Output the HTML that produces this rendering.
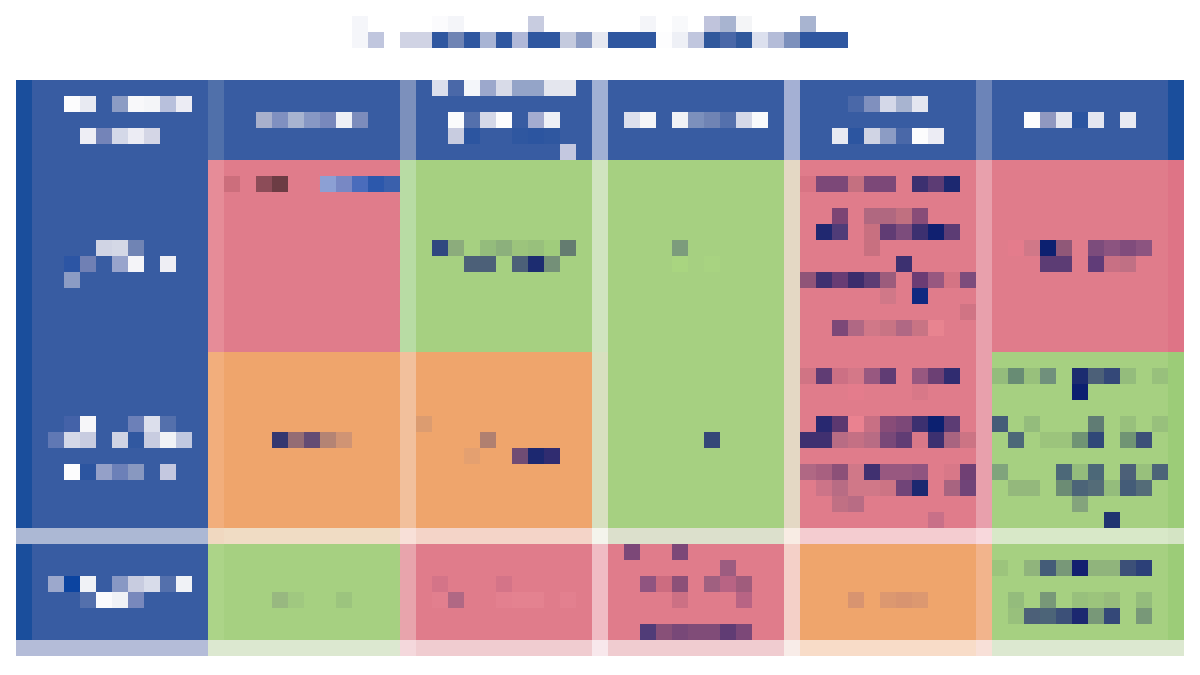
<!DOCTYPE html>
<html><head><meta charset="utf-8"><title>Comparison table</title>
<style>html,body{margin:0;padding:0;background:#fff;width:1200px;height:675px;overflow:hidden;font-family:"Liberation Sans",sans-serif}svg{display:block}</style>
</head><body>
<svg width="1200" height="675" viewBox="0 0 1200 675" shape-rendering="crispEdges">
<rect x="352" y="16" width="16" height="16" fill="#f5f6fa"/>
<rect x="432" y="16" width="16" height="16" fill="#fbfbfd"/>
<rect x="448" y="16" width="16" height="16" fill="#f4f5f9"/>
<rect x="528" y="16" width="16" height="16" fill="#c8cce0"/>
<rect x="640" y="16" width="16" height="16" fill="#f4f5f9"/>
<rect x="672" y="16" width="16" height="16" fill="#f8f9fb"/>
<rect x="704" y="16" width="16" height="16" fill="#c0c4dc"/>
<rect x="720" y="16" width="16" height="16" fill="#a8b4d0"/>
<rect x="736" y="16" width="16" height="16" fill="#f4f5f7"/>
<rect x="800" y="16" width="16" height="16" fill="#a8b4d0"/>
<rect x="352" y="32" width="16" height="16" fill="#f5f6fa"/>
<rect x="368" y="32" width="16" height="16" fill="#c0c6de"/>
<rect x="400" y="32" width="32" height="16" fill="#d0d3e4"/>
<rect x="432" y="32" width="16" height="16" fill="#2f57a0"/>
<rect x="448" y="32" width="16" height="16" fill="#6f84b4"/>
<rect x="464" y="32" width="16" height="16" fill="#2f57a0"/>
<rect x="480" y="32" width="16" height="16" fill="#a8b4d4"/>
<rect x="496" y="32" width="16" height="16" fill="#2f57a0"/>
<rect x="512" y="32" width="16" height="16" fill="#b0b8d8"/>
<rect x="528" y="32" width="32" height="16" fill="#2f57a0"/>
<rect x="560" y="32" width="16" height="16" fill="#c4cade"/>
<rect x="576" y="32" width="16" height="16" fill="#8c9cc4"/>
<rect x="592" y="32" width="16" height="16" fill="#e6e8f0"/>
<rect x="608" y="32" width="48" height="16" fill="#2f57a0"/>
<rect x="656" y="32" width="16" height="16" fill="#fdfdfe"/>
<rect x="672" y="32" width="16" height="16" fill="#eef0f6"/>
<rect x="688" y="32" width="16" height="16" fill="#c0c6de"/>
<rect x="704" y="32" width="16" height="16" fill="#30589c"/>
<rect x="720" y="32" width="16" height="16" fill="#4a68a8"/>
<rect x="736" y="32" width="16" height="16" fill="#30589c"/>
<rect x="752" y="32" width="16" height="16" fill="#dce0ee"/>
<rect x="768" y="32" width="16" height="16" fill="#b4bcd8"/>
<rect x="784" y="32" width="16" height="16" fill="#7c90bc"/>
<rect x="800" y="32" width="48" height="16" fill="#2f57a0"/>
<rect x="16" y="80" width="16" height="16" fill="#1a4e9c"/>
<rect x="32" y="80" width="176" height="16" fill="#385ca2"/>
<rect x="208" y="80" width="16" height="16" fill="#5070aa"/>
<rect x="224" y="80" width="176" height="16" fill="#385ca2"/>
<rect x="400" y="80" width="16" height="16" fill="#7c90bc"/>
<rect x="416" y="80" width="16" height="16" fill="#385ca2"/>
<rect x="432" y="80" width="16" height="16" fill="#dcdfec"/>
<rect x="448" y="80" width="16" height="16" fill="#4a68a8"/>
<rect x="464" y="80" width="16" height="16" fill="#f4f6fa"/>
<rect x="480" y="80" width="16" height="16" fill="#9ca8cc"/>
<rect x="496" y="80" width="16" height="16" fill="#d8dbe8"/>
<rect x="512" y="80" width="32" height="16" fill="#94a4c8"/>
<rect x="544" y="80" width="32" height="16" fill="#e4e6ee"/>
<rect x="576" y="80" width="16" height="16" fill="#385ca2"/>
<rect x="592" y="80" width="16" height="16" fill="#a0b0d4"/>
<rect x="608" y="80" width="176" height="16" fill="#385ca2"/>
<rect x="784" y="80" width="16" height="16" fill="#a4b0d4"/>
<rect x="800" y="80" width="176" height="16" fill="#385ca2"/>
<rect x="976" y="80" width="16" height="16" fill="#6c84b8"/>
<rect x="992" y="80" width="176" height="16" fill="#385ca2"/>
<rect x="1168" y="80" width="16" height="16" fill="#1a4e9c"/>
<rect x="16" y="96" width="16" height="16" fill="#1a4e9c"/>
<rect x="32" y="96" width="32" height="16" fill="#385ca2"/>
<rect x="64" y="96" width="16" height="16" fill="#fcfcfd"/>
<rect x="80" y="96" width="16" height="16" fill="#e8eaf2"/>
<rect x="96" y="96" width="16" height="16" fill="#385ca2"/>
<rect x="112" y="96" width="16" height="16" fill="#8c9cc4"/>
<rect x="128" y="96" width="16" height="16" fill="#f8f8fa"/>
<rect x="144" y="96" width="16" height="16" fill="#f4f5f8"/>
<rect x="160" y="96" width="16" height="16" fill="#b8c0dc"/>
<rect x="176" y="96" width="16" height="16" fill="#ececf4"/>
<rect x="192" y="96" width="16" height="16" fill="#385ca2"/>
<rect x="208" y="96" width="16" height="16" fill="#5070aa"/>
<rect x="224" y="96" width="176" height="16" fill="#385ca2"/>
<rect x="400" y="96" width="16" height="16" fill="#7c90bc"/>
<rect x="416" y="96" width="176" height="16" fill="#385ca2"/>
<rect x="592" y="96" width="16" height="16" fill="#a0b0d4"/>
<rect x="608" y="96" width="176" height="16" fill="#385ca2"/>
<rect x="784" y="96" width="16" height="16" fill="#a4b0d4"/>
<rect x="800" y="96" width="48" height="16" fill="#385ca2"/>
<rect x="848" y="96" width="16" height="16" fill="#4a68a8"/>
<rect x="864" y="96" width="16" height="16" fill="#8090be"/>
<rect x="880" y="96" width="16" height="16" fill="#d4d8e8"/>
<rect x="896" y="96" width="16" height="16" fill="#a8b4d0"/>
<rect x="912" y="96" width="16" height="16" fill="#e4e6f0"/>
<rect x="928" y="96" width="48" height="16" fill="#385ca2"/>
<rect x="976" y="96" width="16" height="16" fill="#6c84b8"/>
<rect x="992" y="96" width="176" height="16" fill="#385ca2"/>
<rect x="1168" y="96" width="16" height="16" fill="#1a4e9c"/>
<rect x="16" y="112" width="16" height="16" fill="#1a4e9c"/>
<rect x="32" y="112" width="176" height="16" fill="#385ca2"/>
<rect x="208" y="112" width="16" height="16" fill="#5070aa"/>
<rect x="224" y="112" width="32" height="16" fill="#385ca2"/>
<rect x="256" y="112" width="16" height="16" fill="#a8b0cc"/>
<rect x="272" y="112" width="16" height="16" fill="#8090c0"/>
<rect x="288" y="112" width="16" height="16" fill="#a8b4d0"/>
<rect x="304" y="112" width="16" height="16" fill="#8898c4"/>
<rect x="320" y="112" width="16" height="16" fill="#7888bc"/>
<rect x="336" y="112" width="16" height="16" fill="#eef0f6"/>
<rect x="352" y="112" width="16" height="16" fill="#7c8cbc"/>
<rect x="368" y="112" width="32" height="16" fill="#385ca2"/>
<rect x="400" y="112" width="16" height="16" fill="#7c90bc"/>
<rect x="416" y="112" width="32" height="16" fill="#385ca2"/>
<rect x="448" y="112" width="16" height="16" fill="#fafbfc"/>
<rect x="464" y="112" width="16" height="16" fill="#5470ac"/>
<rect x="480" y="112" width="16" height="16" fill="#d4d8e8"/>
<rect x="496" y="112" width="16" height="16" fill="#fcfcfd"/>
<rect x="512" y="112" width="16" height="16" fill="#385ca2"/>
<rect x="528" y="112" width="16" height="16" fill="#a4acd0"/>
<rect x="544" y="112" width="16" height="16" fill="#eef0f6"/>
<rect x="560" y="112" width="32" height="16" fill="#385ca2"/>
<rect x="592" y="112" width="16" height="16" fill="#a0b0d4"/>
<rect x="608" y="112" width="16" height="16" fill="#385ca2"/>
<rect x="624" y="112" width="16" height="16" fill="#dcdfec"/>
<rect x="640" y="112" width="16" height="16" fill="#f4f5f8"/>
<rect x="656" y="112" width="16" height="16" fill="#385ca2"/>
<rect x="672" y="112" width="16" height="16" fill="#f0f2f6"/>
<rect x="688" y="112" width="16" height="16" fill="#7c90bc"/>
<rect x="704" y="112" width="16" height="16" fill="#7084b4"/>
<rect x="720" y="112" width="16" height="16" fill="#5470ac"/>
<rect x="736" y="112" width="16" height="16" fill="#d4d8e8"/>
<rect x="752" y="112" width="16" height="16" fill="#f8f9fb"/>
<rect x="768" y="112" width="16" height="16" fill="#385ca2"/>
<rect x="784" y="112" width="16" height="16" fill="#a4b0d4"/>
<rect x="800" y="112" width="176" height="16" fill="#385ca2"/>
<rect x="976" y="112" width="16" height="16" fill="#6c84b8"/>
<rect x="992" y="112" width="32" height="16" fill="#385ca2"/>
<rect x="1024" y="112" width="16" height="16" fill="#fcfcfd"/>
<rect x="1040" y="112" width="16" height="16" fill="#9098c0"/>
<rect x="1056" y="112" width="16" height="16" fill="#e4e6f0"/>
<rect x="1072" y="112" width="16" height="16" fill="#2c55a0"/>
<rect x="1088" y="112" width="16" height="16" fill="#e4e6f0"/>
<rect x="1104" y="112" width="16" height="16" fill="#385ca2"/>
<rect x="1120" y="112" width="16" height="16" fill="#e8eaf2"/>
<rect x="1136" y="112" width="32" height="16" fill="#385ca2"/>
<rect x="1168" y="112" width="16" height="16" fill="#1a4e9c"/>
<rect x="16" y="128" width="16" height="16" fill="#1a4e9c"/>
<rect x="32" y="128" width="48" height="16" fill="#385ca2"/>
<rect x="80" y="128" width="16" height="16" fill="#eeeef5"/>
<rect x="96" y="128" width="16" height="16" fill="#7484b8"/>
<rect x="112" y="128" width="16" height="16" fill="#d4d8e8"/>
<rect x="128" y="128" width="16" height="16" fill="#ececf4"/>
<rect x="144" y="128" width="16" height="16" fill="#d4d6e6"/>
<rect x="160" y="128" width="48" height="16" fill="#385ca2"/>
<rect x="208" y="128" width="16" height="16" fill="#5070aa"/>
<rect x="224" y="128" width="176" height="16" fill="#385ca2"/>
<rect x="400" y="128" width="16" height="16" fill="#7c90bc"/>
<rect x="416" y="128" width="32" height="16" fill="#385ca2"/>
<rect x="448" y="128" width="16" height="16" fill="#c8cce0"/>
<rect x="464" y="128" width="16" height="16" fill="#2c55a0"/>
<rect x="480" y="128" width="32" height="16" fill="#385ca2"/>
<rect x="512" y="128" width="16" height="16" fill="#2f57a0"/>
<rect x="528" y="128" width="16" height="16" fill="#2c55a0"/>
<rect x="544" y="128" width="16" height="16" fill="#2f57a0"/>
<rect x="560" y="128" width="32" height="16" fill="#385ca2"/>
<rect x="592" y="128" width="16" height="16" fill="#a0b0d4"/>
<rect x="608" y="128" width="176" height="16" fill="#385ca2"/>
<rect x="784" y="128" width="16" height="16" fill="#a4b0d4"/>
<rect x="800" y="128" width="32" height="16" fill="#385ca2"/>
<rect x="832" y="128" width="16" height="16" fill="#e8eaf2"/>
<rect x="848" y="128" width="16" height="16" fill="#2c55a0"/>
<rect x="864" y="128" width="16" height="16" fill="#d0d4e4"/>
<rect x="880" y="128" width="16" height="16" fill="#8c9cc4"/>
<rect x="896" y="128" width="16" height="16" fill="#4a68a8"/>
<rect x="912" y="128" width="16" height="16" fill="#fcfcfd"/>
<rect x="928" y="128" width="16" height="16" fill="#ececf4"/>
<rect x="944" y="128" width="32" height="16" fill="#385ca2"/>
<rect x="976" y="128" width="16" height="16" fill="#6c84b8"/>
<rect x="992" y="128" width="176" height="16" fill="#385ca2"/>
<rect x="1168" y="128" width="16" height="16" fill="#1a4e9c"/>
<rect x="16" y="144" width="16" height="16" fill="#1a4e9c"/>
<rect x="32" y="144" width="176" height="16" fill="#385ca2"/>
<rect x="208" y="144" width="16" height="16" fill="#5070aa"/>
<rect x="224" y="144" width="176" height="16" fill="#385ca2"/>
<rect x="400" y="144" width="16" height="16" fill="#7c90bc"/>
<rect x="416" y="144" width="144" height="16" fill="#385ca2"/>
<rect x="560" y="144" width="16" height="16" fill="#c4c8e0"/>
<rect x="576" y="144" width="16" height="16" fill="#385ca2"/>
<rect x="592" y="144" width="16" height="16" fill="#a0b0d4"/>
<rect x="608" y="144" width="176" height="16" fill="#385ca2"/>
<rect x="784" y="144" width="16" height="16" fill="#a4b0d4"/>
<rect x="800" y="144" width="176" height="16" fill="#385ca2"/>
<rect x="976" y="144" width="16" height="16" fill="#6c84b8"/>
<rect x="992" y="144" width="176" height="16" fill="#385ca2"/>
<rect x="1168" y="144" width="16" height="16" fill="#1a4e9c"/>
<rect x="16" y="160" width="16" height="16" fill="#1a4e9c"/>
<rect x="32" y="160" width="176" height="16" fill="#385ca2"/>
<rect x="208" y="160" width="16" height="16" fill="#e68c98"/>
<rect x="224" y="160" width="176" height="16" fill="#e07c8b"/>
<rect x="400" y="160" width="16" height="16" fill="#b8dca4"/>
<rect x="416" y="160" width="176" height="16" fill="#a6d081"/>
<rect x="592" y="160" width="16" height="16" fill="#d0e4c0"/>
<rect x="608" y="160" width="176" height="16" fill="#a6d081"/>
<rect x="784" y="160" width="16" height="16" fill="#e4d8c4"/>
<rect x="800" y="160" width="176" height="16" fill="#e07c8b"/>
<rect x="976" y="160" width="16" height="16" fill="#e8a0ac"/>
<rect x="992" y="160" width="176" height="16" fill="#e07c8b"/>
<rect x="1168" y="160" width="16" height="16" fill="#de7486"/>
<rect x="16" y="176" width="16" height="16" fill="#1a4e9c"/>
<rect x="32" y="176" width="176" height="16" fill="#385ca2"/>
<rect x="208" y="176" width="16" height="16" fill="#e68c98"/>
<rect x="224" y="176" width="16" height="16" fill="#cc6e7c"/>
<rect x="240" y="176" width="16" height="16" fill="#e07c8b"/>
<rect x="256" y="176" width="16" height="16" fill="#8c4c58"/>
<rect x="272" y="176" width="16" height="16" fill="#6c3c44"/>
<rect x="288" y="176" width="32" height="16" fill="#e07c8b"/>
<rect x="320" y="176" width="16" height="16" fill="#8ca0d4"/>
<rect x="336" y="176" width="16" height="16" fill="#7888c4"/>
<rect x="352" y="176" width="16" height="16" fill="#4a6cbc"/>
<rect x="368" y="176" width="16" height="16" fill="#2c58ac"/>
<rect x="384" y="176" width="16" height="16" fill="#3a60ac"/>
<rect x="400" y="176" width="16" height="16" fill="#b8dca4"/>
<rect x="416" y="176" width="176" height="16" fill="#a6d081"/>
<rect x="592" y="176" width="16" height="16" fill="#d0e4c0"/>
<rect x="608" y="176" width="176" height="16" fill="#a6d081"/>
<rect x="784" y="176" width="16" height="16" fill="#e4d8c4"/>
<rect x="800" y="176" width="16" height="16" fill="#d87484"/>
<rect x="816" y="176" width="32" height="16" fill="#7c4878"/>
<rect x="848" y="176" width="16" height="16" fill="#c47080"/>
<rect x="864" y="176" width="32" height="16" fill="#7c4878"/>
<rect x="896" y="176" width="16" height="16" fill="#e07c8b"/>
<rect x="912" y="176" width="16" height="16" fill="#3c3070"/>
<rect x="928" y="176" width="16" height="16" fill="#5c3c74"/>
<rect x="944" y="176" width="16" height="16" fill="#1c2870"/>
<rect x="960" y="176" width="16" height="16" fill="#e07c8b"/>
<rect x="976" y="176" width="16" height="16" fill="#e8a0ac"/>
<rect x="992" y="176" width="176" height="16" fill="#e07c8b"/>
<rect x="1168" y="176" width="16" height="16" fill="#de7486"/>
<rect x="16" y="192" width="16" height="16" fill="#1a4e9c"/>
<rect x="32" y="192" width="176" height="16" fill="#385ca2"/>
<rect x="208" y="192" width="16" height="16" fill="#e68c98"/>
<rect x="224" y="192" width="176" height="16" fill="#e07c8b"/>
<rect x="400" y="192" width="16" height="16" fill="#b8dca4"/>
<rect x="416" y="192" width="176" height="16" fill="#a6d081"/>
<rect x="592" y="192" width="16" height="16" fill="#d0e4c0"/>
<rect x="608" y="192" width="176" height="16" fill="#a6d081"/>
<rect x="784" y="192" width="16" height="16" fill="#e4d8c4"/>
<rect x="800" y="192" width="176" height="16" fill="#e07c8b"/>
<rect x="976" y="192" width="16" height="16" fill="#e8a0ac"/>
<rect x="992" y="192" width="176" height="16" fill="#e07c8b"/>
<rect x="1168" y="192" width="16" height="16" fill="#de7486"/>
<rect x="16" y="208" width="16" height="16" fill="#1a4e9c"/>
<rect x="32" y="208" width="176" height="16" fill="#385ca2"/>
<rect x="208" y="208" width="16" height="16" fill="#e68c98"/>
<rect x="224" y="208" width="176" height="16" fill="#e07c8b"/>
<rect x="400" y="208" width="16" height="16" fill="#b8dca4"/>
<rect x="416" y="208" width="176" height="16" fill="#a6d081"/>
<rect x="592" y="208" width="16" height="16" fill="#d0e4c0"/>
<rect x="608" y="208" width="176" height="16" fill="#a6d081"/>
<rect x="784" y="208" width="16" height="16" fill="#e4d8c4"/>
<rect x="800" y="208" width="32" height="16" fill="#e07c8b"/>
<rect x="832" y="208" width="16" height="16" fill="#7c4474"/>
<rect x="848" y="208" width="16" height="16" fill="#e07c8b"/>
<rect x="864" y="208" width="32" height="16" fill="#b06880"/>
<rect x="896" y="208" width="16" height="16" fill="#c07080"/>
<rect x="912" y="208" width="16" height="16" fill="#884c78"/>
<rect x="928" y="208" width="48" height="16" fill="#e07c8b"/>
<rect x="976" y="208" width="16" height="16" fill="#e8a0ac"/>
<rect x="992" y="208" width="176" height="16" fill="#e07c8b"/>
<rect x="1168" y="208" width="16" height="16" fill="#de7486"/>
<rect x="16" y="224" width="16" height="16" fill="#1a4e9c"/>
<rect x="32" y="224" width="176" height="16" fill="#385ca2"/>
<rect x="208" y="224" width="16" height="16" fill="#e68c98"/>
<rect x="224" y="224" width="176" height="16" fill="#e07c8b"/>
<rect x="400" y="224" width="16" height="16" fill="#b8dca4"/>
<rect x="416" y="224" width="176" height="16" fill="#a6d081"/>
<rect x="592" y="224" width="16" height="16" fill="#d0e4c0"/>
<rect x="608" y="224" width="176" height="16" fill="#a6d081"/>
<rect x="784" y="224" width="16" height="16" fill="#e4d8c4"/>
<rect x="800" y="224" width="16" height="16" fill="#e07c8b"/>
<rect x="816" y="224" width="16" height="16" fill="#202870"/>
<rect x="832" y="224" width="16" height="16" fill="#503c78"/>
<rect x="848" y="224" width="16" height="16" fill="#e07c8b"/>
<rect x="864" y="224" width="16" height="16" fill="#c87080"/>
<rect x="880" y="224" width="16" height="16" fill="#603c74"/>
<rect x="896" y="224" width="16" height="16" fill="#7c4c7c"/>
<rect x="912" y="224" width="16" height="16" fill="#3c3070"/>
<rect x="928" y="224" width="16" height="16" fill="#102070"/>
<rect x="944" y="224" width="16" height="16" fill="#5c3c74"/>
<rect x="960" y="224" width="16" height="16" fill="#e07c8b"/>
<rect x="976" y="224" width="16" height="16" fill="#e8a0ac"/>
<rect x="992" y="224" width="176" height="16" fill="#e07c8b"/>
<rect x="1168" y="224" width="16" height="16" fill="#de7486"/>
<rect x="16" y="240" width="16" height="16" fill="#1a4e9c"/>
<rect x="32" y="240" width="64" height="16" fill="#385ca2"/>
<rect x="96" y="240" width="16" height="16" fill="#d0d4e4"/>
<rect x="112" y="240" width="16" height="16" fill="#d4d8e6"/>
<rect x="128" y="240" width="16" height="16" fill="#7084b4"/>
<rect x="144" y="240" width="64" height="16" fill="#385ca2"/>
<rect x="208" y="240" width="16" height="16" fill="#e68c98"/>
<rect x="224" y="240" width="176" height="16" fill="#e07c8b"/>
<rect x="400" y="240" width="16" height="16" fill="#b8dca4"/>
<rect x="416" y="240" width="16" height="16" fill="#a6d081"/>
<rect x="432" y="240" width="16" height="16" fill="#304880"/>
<rect x="448" y="240" width="16" height="16" fill="#8cac7c"/>
<rect x="464" y="240" width="16" height="16" fill="#a6d081"/>
<rect x="480" y="240" width="16" height="16" fill="#94bc7c"/>
<rect x="496" y="240" width="16" height="16" fill="#8cb07c"/>
<rect x="512" y="240" width="16" height="16" fill="#9cc47c"/>
<rect x="528" y="240" width="16" height="16" fill="#98c07c"/>
<rect x="544" y="240" width="16" height="16" fill="#a0cc7c"/>
<rect x="560" y="240" width="16" height="16" fill="#647c70"/>
<rect x="576" y="240" width="16" height="16" fill="#a6d081"/>
<rect x="592" y="240" width="16" height="16" fill="#d0e4c0"/>
<rect x="608" y="240" width="64" height="16" fill="#a6d081"/>
<rect x="672" y="240" width="16" height="16" fill="#7c9c7c"/>
<rect x="688" y="240" width="96" height="16" fill="#a6d081"/>
<rect x="784" y="240" width="16" height="16" fill="#e4d8c4"/>
<rect x="800" y="240" width="64" height="16" fill="#e07c8b"/>
<rect x="864" y="240" width="16" height="16" fill="#c87080"/>
<rect x="880" y="240" width="96" height="16" fill="#e07c8b"/>
<rect x="976" y="240" width="16" height="16" fill="#e8a0ac"/>
<rect x="992" y="240" width="16" height="16" fill="#e07c8b"/>
<rect x="1008" y="240" width="16" height="16" fill="#e47c8c"/>
<rect x="1024" y="240" width="16" height="16" fill="#d07888"/>
<rect x="1040" y="240" width="16" height="16" fill="#0c2070"/>
<rect x="1056" y="240" width="16" height="16" fill="#905878"/>
<rect x="1072" y="240" width="16" height="16" fill="#e07c8b"/>
<rect x="1088" y="240" width="16" height="16" fill="#7c4c7c"/>
<rect x="1104" y="240" width="16" height="16" fill="#8c5480"/>
<rect x="1120" y="240" width="16" height="16" fill="#804c7c"/>
<rect x="1136" y="240" width="16" height="16" fill="#8c5480"/>
<rect x="1152" y="240" width="16" height="16" fill="#e07c8b"/>
<rect x="1168" y="240" width="16" height="16" fill="#de7486"/>
<rect x="16" y="256" width="16" height="16" fill="#1a4e9c"/>
<rect x="32" y="256" width="32" height="16" fill="#385ca2"/>
<rect x="64" y="256" width="16" height="16" fill="#2c55a4"/>
<rect x="80" y="256" width="16" height="16" fill="#7080b4"/>
<rect x="96" y="256" width="16" height="16" fill="#385ca2"/>
<rect x="112" y="256" width="16" height="16" fill="#98a4cc"/>
<rect x="128" y="256" width="16" height="16" fill="#f4f4f8"/>
<rect x="144" y="256" width="16" height="16" fill="#385ca2"/>
<rect x="160" y="256" width="16" height="16" fill="#eeeef4"/>
<rect x="176" y="256" width="32" height="16" fill="#385ca2"/>
<rect x="208" y="256" width="16" height="16" fill="#e68c98"/>
<rect x="224" y="256" width="176" height="16" fill="#e07c8b"/>
<rect x="400" y="256" width="16" height="16" fill="#b8dca4"/>
<rect x="416" y="256" width="48" height="16" fill="#a6d081"/>
<rect x="464" y="256" width="32" height="16" fill="#4c6078"/>
<rect x="496" y="256" width="16" height="16" fill="#a6d081"/>
<rect x="512" y="256" width="16" height="16" fill="#4c6078"/>
<rect x="528" y="256" width="16" height="16" fill="#1c2c70"/>
<rect x="544" y="256" width="16" height="16" fill="#749078"/>
<rect x="560" y="256" width="32" height="16" fill="#a6d081"/>
<rect x="592" y="256" width="16" height="16" fill="#d0e4c0"/>
<rect x="608" y="256" width="64" height="16" fill="#a6d081"/>
<rect x="672" y="256" width="16" height="16" fill="#a9d580"/>
<rect x="688" y="256" width="16" height="16" fill="#a6d081"/>
<rect x="704" y="256" width="16" height="16" fill="#a8d381"/>
<rect x="720" y="256" width="64" height="16" fill="#a6d081"/>
<rect x="784" y="256" width="16" height="16" fill="#e4d8c4"/>
<rect x="800" y="256" width="96" height="16" fill="#e07c8b"/>
<rect x="896" y="256" width="16" height="16" fill="#3c3070"/>
<rect x="912" y="256" width="64" height="16" fill="#e07c8b"/>
<rect x="976" y="256" width="16" height="16" fill="#e8a0ac"/>
<rect x="992" y="256" width="48" height="16" fill="#e07c8b"/>
<rect x="1040" y="256" width="32" height="16" fill="#5c3c74"/>
<rect x="1072" y="256" width="16" height="16" fill="#e07c8b"/>
<rect x="1088" y="256" width="16" height="16" fill="#603c78"/>
<rect x="1104" y="256" width="16" height="16" fill="#c87084"/>
<rect x="1120" y="256" width="16" height="16" fill="#c07084"/>
<rect x="1136" y="256" width="32" height="16" fill="#e07c8b"/>
<rect x="1168" y="256" width="16" height="16" fill="#de7486"/>
<rect x="16" y="272" width="16" height="16" fill="#1a4e9c"/>
<rect x="32" y="272" width="32" height="16" fill="#385ca2"/>
<rect x="64" y="272" width="16" height="16" fill="#8c9cc4"/>
<rect x="80" y="272" width="128" height="16" fill="#385ca2"/>
<rect x="208" y="272" width="16" height="16" fill="#e68c98"/>
<rect x="224" y="272" width="176" height="16" fill="#e07c8b"/>
<rect x="400" y="272" width="16" height="16" fill="#b8dca4"/>
<rect x="416" y="272" width="176" height="16" fill="#a6d081"/>
<rect x="592" y="272" width="16" height="16" fill="#d0e4c0"/>
<rect x="608" y="272" width="176" height="16" fill="#a6d081"/>
<rect x="784" y="272" width="16" height="16" fill="#e4d8c4"/>
<rect x="800" y="272" width="16" height="16" fill="#905478"/>
<rect x="816" y="272" width="16" height="16" fill="#403070"/>
<rect x="832" y="272" width="16" height="16" fill="#683c74"/>
<rect x="848" y="272" width="16" height="16" fill="#3c2c6c"/>
<rect x="864" y="272" width="16" height="16" fill="#5c3c74"/>
<rect x="880" y="272" width="16" height="16" fill="#9c5c7c"/>
<rect x="896" y="272" width="16" height="16" fill="#e07c8b"/>
<rect x="912" y="272" width="16" height="16" fill="#6c3c74"/>
<rect x="928" y="272" width="16" height="16" fill="#985880"/>
<rect x="944" y="272" width="16" height="16" fill="#d47484"/>
<rect x="960" y="272" width="16" height="16" fill="#7c4c7c"/>
<rect x="976" y="272" width="16" height="16" fill="#e8a0ac"/>
<rect x="992" y="272" width="176" height="16" fill="#e07c8b"/>
<rect x="1168" y="272" width="16" height="16" fill="#de7486"/>
<rect x="16" y="288" width="16" height="16" fill="#1a4e9c"/>
<rect x="32" y="288" width="176" height="16" fill="#385ca2"/>
<rect x="208" y="288" width="16" height="16" fill="#e68c98"/>
<rect x="224" y="288" width="176" height="16" fill="#e07c8b"/>
<rect x="400" y="288" width="16" height="16" fill="#b8dca4"/>
<rect x="416" y="288" width="176" height="16" fill="#a6d081"/>
<rect x="592" y="288" width="16" height="16" fill="#d0e4c0"/>
<rect x="608" y="288" width="176" height="16" fill="#a6d081"/>
<rect x="784" y="288" width="16" height="16" fill="#e4d8c4"/>
<rect x="800" y="288" width="80" height="16" fill="#e07c8b"/>
<rect x="880" y="288" width="16" height="16" fill="#d07888"/>
<rect x="896" y="288" width="16" height="16" fill="#e07c8b"/>
<rect x="912" y="288" width="16" height="16" fill="#102880"/>
<rect x="928" y="288" width="48" height="16" fill="#e07c8b"/>
<rect x="976" y="288" width="16" height="16" fill="#e8a0ac"/>
<rect x="992" y="288" width="176" height="16" fill="#e07c8b"/>
<rect x="1168" y="288" width="16" height="16" fill="#de7486"/>
<rect x="16" y="304" width="16" height="16" fill="#1a4e9c"/>
<rect x="32" y="304" width="176" height="16" fill="#385ca2"/>
<rect x="208" y="304" width="16" height="16" fill="#e68c98"/>
<rect x="224" y="304" width="176" height="16" fill="#e07c8b"/>
<rect x="400" y="304" width="16" height="16" fill="#b8dca4"/>
<rect x="416" y="304" width="176" height="16" fill="#a6d081"/>
<rect x="592" y="304" width="16" height="16" fill="#d0e4c0"/>
<rect x="608" y="304" width="176" height="16" fill="#a6d081"/>
<rect x="784" y="304" width="16" height="16" fill="#e4d8c4"/>
<rect x="800" y="304" width="160" height="16" fill="#e07c8b"/>
<rect x="960" y="304" width="16" height="16" fill="#d07484"/>
<rect x="976" y="304" width="16" height="16" fill="#e8a0ac"/>
<rect x="992" y="304" width="176" height="16" fill="#e07c8b"/>
<rect x="1168" y="304" width="16" height="16" fill="#de7486"/>
<rect x="16" y="320" width="16" height="16" fill="#1a4e9c"/>
<rect x="32" y="320" width="176" height="16" fill="#385ca2"/>
<rect x="208" y="320" width="16" height="16" fill="#e68c98"/>
<rect x="224" y="320" width="176" height="16" fill="#e07c8b"/>
<rect x="400" y="320" width="16" height="16" fill="#b8dca4"/>
<rect x="416" y="320" width="176" height="16" fill="#a6d081"/>
<rect x="592" y="320" width="16" height="16" fill="#d0e4c0"/>
<rect x="608" y="320" width="176" height="16" fill="#a6d081"/>
<rect x="784" y="320" width="16" height="16" fill="#e4d8c4"/>
<rect x="800" y="320" width="32" height="16" fill="#e07c8b"/>
<rect x="832" y="320" width="16" height="16" fill="#7c4878"/>
<rect x="848" y="320" width="16" height="16" fill="#b06884"/>
<rect x="864" y="320" width="16" height="16" fill="#d07888"/>
<rect x="880" y="320" width="16" height="16" fill="#c87484"/>
<rect x="896" y="320" width="16" height="16" fill="#b06884"/>
<rect x="912" y="320" width="16" height="16" fill="#c87484"/>
<rect x="928" y="320" width="16" height="16" fill="#e88490"/>
<rect x="944" y="320" width="32" height="16" fill="#e07c8b"/>
<rect x="976" y="320" width="16" height="16" fill="#e8a0ac"/>
<rect x="992" y="320" width="176" height="16" fill="#e07c8b"/>
<rect x="1168" y="320" width="16" height="16" fill="#de7486"/>
<rect x="16" y="336" width="16" height="16" fill="#1a4e9c"/>
<rect x="32" y="336" width="176" height="16" fill="#385ca2"/>
<rect x="208" y="336" width="16" height="16" fill="#e68c98"/>
<rect x="224" y="336" width="176" height="16" fill="#e07c8b"/>
<rect x="400" y="336" width="16" height="16" fill="#b8dca4"/>
<rect x="416" y="336" width="176" height="16" fill="#a6d081"/>
<rect x="592" y="336" width="16" height="16" fill="#d0e4c0"/>
<rect x="608" y="336" width="176" height="16" fill="#a6d081"/>
<rect x="784" y="336" width="16" height="16" fill="#e4d8c4"/>
<rect x="800" y="336" width="176" height="16" fill="#e07c8b"/>
<rect x="976" y="336" width="16" height="16" fill="#e8a0ac"/>
<rect x="992" y="336" width="176" height="16" fill="#e07c8b"/>
<rect x="1168" y="336" width="16" height="16" fill="#de7486"/>
<rect x="16" y="352" width="16" height="16" fill="#1a4e9c"/>
<rect x="32" y="352" width="176" height="16" fill="#385ca2"/>
<rect x="208" y="352" width="16" height="16" fill="#f2ae7c"/>
<rect x="224" y="352" width="176" height="16" fill="#efa56c"/>
<rect x="400" y="352" width="16" height="16" fill="#f2c09c"/>
<rect x="416" y="352" width="176" height="16" fill="#efa56c"/>
<rect x="592" y="352" width="16" height="16" fill="#d8e0c0"/>
<rect x="608" y="352" width="176" height="16" fill="#a6d081"/>
<rect x="784" y="352" width="16" height="16" fill="#e4d8c4"/>
<rect x="800" y="352" width="176" height="16" fill="#e07c8b"/>
<rect x="976" y="352" width="16" height="16" fill="#e8a0ac"/>
<rect x="992" y="352" width="176" height="16" fill="#a6d081"/>
<rect x="1168" y="352" width="16" height="16" fill="#9ccc78"/>
<rect x="16" y="368" width="16" height="16" fill="#1a4e9c"/>
<rect x="32" y="368" width="176" height="16" fill="#385ca2"/>
<rect x="208" y="368" width="16" height="16" fill="#f2ae7c"/>
<rect x="224" y="368" width="176" height="16" fill="#efa56c"/>
<rect x="400" y="368" width="16" height="16" fill="#f2c09c"/>
<rect x="416" y="368" width="176" height="16" fill="#efa56c"/>
<rect x="592" y="368" width="16" height="16" fill="#d8e0c0"/>
<rect x="608" y="368" width="176" height="16" fill="#a6d081"/>
<rect x="784" y="368" width="16" height="16" fill="#e4d8c4"/>
<rect x="800" y="368" width="16" height="16" fill="#d07484"/>
<rect x="816" y="368" width="16" height="16" fill="#603c74"/>
<rect x="832" y="368" width="16" height="16" fill="#cc7084"/>
<rect x="848" y="368" width="16" height="16" fill="#d47888"/>
<rect x="864" y="368" width="16" height="16" fill="#985880"/>
<rect x="880" y="368" width="16" height="16" fill="#603c74"/>
<rect x="896" y="368" width="16" height="16" fill="#e07c8b"/>
<rect x="912" y="368" width="16" height="16" fill="#985880"/>
<rect x="928" y="368" width="16" height="16" fill="#6c4074"/>
<rect x="944" y="368" width="16" height="16" fill="#302c70"/>
<rect x="960" y="368" width="16" height="16" fill="#e07c8b"/>
<rect x="976" y="368" width="16" height="16" fill="#e8a0ac"/>
<rect x="992" y="368" width="16" height="16" fill="#94bc7c"/>
<rect x="1008" y="368" width="16" height="16" fill="#688c74"/>
<rect x="1024" y="368" width="16" height="16" fill="#98c07c"/>
<rect x="1040" y="368" width="16" height="16" fill="#70907c"/>
<rect x="1056" y="368" width="16" height="16" fill="#a6d081"/>
<rect x="1072" y="368" width="16" height="16" fill="#1c2c70"/>
<rect x="1088" y="368" width="16" height="16" fill="#4c6078"/>
<rect x="1104" y="368" width="16" height="16" fill="#344878"/>
<rect x="1120" y="368" width="16" height="16" fill="#94bc7c"/>
<rect x="1136" y="368" width="16" height="16" fill="#a6d081"/>
<rect x="1152" y="368" width="16" height="16" fill="#98c07c"/>
<rect x="1168" y="368" width="16" height="16" fill="#9ccc78"/>
<rect x="16" y="384" width="16" height="16" fill="#1a4e9c"/>
<rect x="32" y="384" width="176" height="16" fill="#385ca2"/>
<rect x="208" y="384" width="16" height="16" fill="#f2ae7c"/>
<rect x="224" y="384" width="176" height="16" fill="#efa56c"/>
<rect x="400" y="384" width="16" height="16" fill="#f2c09c"/>
<rect x="416" y="384" width="176" height="16" fill="#efa56c"/>
<rect x="592" y="384" width="16" height="16" fill="#d8e0c0"/>
<rect x="608" y="384" width="176" height="16" fill="#a6d081"/>
<rect x="784" y="384" width="16" height="16" fill="#e4d8c4"/>
<rect x="800" y="384" width="48" height="16" fill="#e07c8b"/>
<rect x="848" y="384" width="16" height="16" fill="#e47c8c"/>
<rect x="864" y="384" width="48" height="16" fill="#e07c8b"/>
<rect x="912" y="384" width="16" height="16" fill="#d87888"/>
<rect x="928" y="384" width="48" height="16" fill="#e07c8b"/>
<rect x="976" y="384" width="16" height="16" fill="#e8a0ac"/>
<rect x="992" y="384" width="80" height="16" fill="#a6d081"/>
<rect x="1072" y="384" width="16" height="16" fill="#0c2070"/>
<rect x="1088" y="384" width="80" height="16" fill="#a6d081"/>
<rect x="1168" y="384" width="16" height="16" fill="#9ccc78"/>
<rect x="16" y="400" width="16" height="16" fill="#1a4e9c"/>
<rect x="32" y="400" width="176" height="16" fill="#385ca2"/>
<rect x="208" y="400" width="16" height="16" fill="#f2ae7c"/>
<rect x="224" y="400" width="176" height="16" fill="#efa56c"/>
<rect x="400" y="400" width="16" height="16" fill="#f2c09c"/>
<rect x="416" y="400" width="176" height="16" fill="#efa56c"/>
<rect x="592" y="400" width="16" height="16" fill="#d8e0c0"/>
<rect x="608" y="400" width="176" height="16" fill="#a6d081"/>
<rect x="784" y="400" width="16" height="16" fill="#e4d8c4"/>
<rect x="800" y="400" width="176" height="16" fill="#e07c8b"/>
<rect x="976" y="400" width="16" height="16" fill="#e8a0ac"/>
<rect x="992" y="400" width="176" height="16" fill="#a6d081"/>
<rect x="1168" y="400" width="16" height="16" fill="#9ccc78"/>
<rect x="16" y="416" width="16" height="16" fill="#1a4e9c"/>
<rect x="32" y="416" width="32" height="16" fill="#385ca2"/>
<rect x="64" y="416" width="16" height="16" fill="#4462a8"/>
<rect x="80" y="416" width="16" height="16" fill="#f6f6f9"/>
<rect x="96" y="416" width="32" height="16" fill="#385ca2"/>
<rect x="128" y="416" width="16" height="16" fill="#6c80b8"/>
<rect x="144" y="416" width="16" height="16" fill="#dcdfec"/>
<rect x="160" y="416" width="16" height="16" fill="#5470ac"/>
<rect x="176" y="416" width="32" height="16" fill="#385ca2"/>
<rect x="208" y="416" width="16" height="16" fill="#f2ae7c"/>
<rect x="224" y="416" width="176" height="16" fill="#efa56c"/>
<rect x="400" y="416" width="16" height="16" fill="#f2c09c"/>
<rect x="416" y="416" width="16" height="16" fill="#dc9c70"/>
<rect x="432" y="416" width="160" height="16" fill="#efa56c"/>
<rect x="592" y="416" width="16" height="16" fill="#d8e0c0"/>
<rect x="608" y="416" width="176" height="16" fill="#a6d081"/>
<rect x="784" y="416" width="16" height="16" fill="#e4d8c4"/>
<rect x="800" y="416" width="16" height="16" fill="#e07c8b"/>
<rect x="816" y="416" width="16" height="16" fill="#282870"/>
<rect x="832" y="416" width="16" height="16" fill="#5c3870"/>
<rect x="848" y="416" width="16" height="16" fill="#ea8290"/>
<rect x="864" y="416" width="16" height="16" fill="#c87084"/>
<rect x="880" y="416" width="16" height="16" fill="#884c78"/>
<rect x="896" y="416" width="16" height="16" fill="#7c4878"/>
<rect x="912" y="416" width="16" height="16" fill="#3c3070"/>
<rect x="928" y="416" width="16" height="16" fill="#0c2070"/>
<rect x="944" y="416" width="16" height="16" fill="#5c3c74"/>
<rect x="960" y="416" width="16" height="16" fill="#e07c8b"/>
<rect x="976" y="416" width="16" height="16" fill="#e8a0ac"/>
<rect x="992" y="416" width="16" height="16" fill="#445c78"/>
<rect x="1008" y="416" width="16" height="16" fill="#a6d081"/>
<rect x="1024" y="416" width="16" height="16" fill="#94bc7c"/>
<rect x="1040" y="416" width="48" height="16" fill="#a6d081"/>
<rect x="1088" y="416" width="16" height="16" fill="#607c74"/>
<rect x="1104" y="416" width="16" height="16" fill="#a6d081"/>
<rect x="1120" y="416" width="16" height="16" fill="#98c07c"/>
<rect x="1136" y="416" width="16" height="16" fill="#a6d081"/>
<rect x="1152" y="416" width="16" height="16" fill="#98c07c"/>
<rect x="1168" y="416" width="16" height="16" fill="#9ccc78"/>
<rect x="16" y="432" width="16" height="16" fill="#1a4e9c"/>
<rect x="32" y="432" width="16" height="16" fill="#385ca2"/>
<rect x="48" y="432" width="16" height="16" fill="#6078b4"/>
<rect x="64" y="432" width="16" height="16" fill="#d4d8e8"/>
<rect x="80" y="432" width="16" height="16" fill="#c8cce0"/>
<rect x="96" y="432" width="16" height="16" fill="#385ca2"/>
<rect x="112" y="432" width="16" height="16" fill="#d0d4e4"/>
<rect x="128" y="432" width="16" height="16" fill="#3158a0"/>
<rect x="144" y="432" width="16" height="16" fill="#c8cce0"/>
<rect x="160" y="432" width="16" height="16" fill="#f0f2f6"/>
<rect x="176" y="432" width="16" height="16" fill="#c0c8e0"/>
<rect x="192" y="432" width="16" height="16" fill="#385ca2"/>
<rect x="208" y="432" width="16" height="16" fill="#f2ae7c"/>
<rect x="224" y="432" width="48" height="16" fill="#efa56c"/>
<rect x="272" y="432" width="16" height="16" fill="#343870"/>
<rect x="288" y="432" width="16" height="16" fill="#946c74"/>
<rect x="304" y="432" width="16" height="16" fill="#644c74"/>
<rect x="320" y="432" width="16" height="16" fill="#b48474"/>
<rect x="336" y="432" width="16" height="16" fill="#d09474"/>
<rect x="352" y="432" width="48" height="16" fill="#efa56c"/>
<rect x="400" y="432" width="16" height="16" fill="#f2c09c"/>
<rect x="416" y="432" width="64" height="16" fill="#efa56c"/>
<rect x="480" y="432" width="16" height="16" fill="#b08070"/>
<rect x="496" y="432" width="96" height="16" fill="#efa56c"/>
<rect x="592" y="432" width="16" height="16" fill="#d8e0c0"/>
<rect x="608" y="432" width="96" height="16" fill="#a6d081"/>
<rect x="704" y="432" width="16" height="16" fill="#344878"/>
<rect x="720" y="432" width="64" height="16" fill="#a6d081"/>
<rect x="784" y="432" width="16" height="16" fill="#e4d8c4"/>
<rect x="800" y="432" width="32" height="16" fill="#403070"/>
<rect x="832" y="432" width="16" height="16" fill="#b86c84"/>
<rect x="848" y="432" width="16" height="16" fill="#c47084"/>
<rect x="864" y="432" width="16" height="16" fill="#b86c84"/>
<rect x="880" y="432" width="16" height="16" fill="#784878"/>
<rect x="896" y="432" width="16" height="16" fill="#603c74"/>
<rect x="912" y="432" width="16" height="16" fill="#d87888"/>
<rect x="928" y="432" width="16" height="16" fill="#3c3070"/>
<rect x="944" y="432" width="16" height="16" fill="#a86480"/>
<rect x="960" y="432" width="16" height="16" fill="#cc7484"/>
<rect x="976" y="432" width="16" height="16" fill="#e8a0ac"/>
<rect x="992" y="432" width="16" height="16" fill="#a6d081"/>
<rect x="1008" y="432" width="16" height="16" fill="#4c6878"/>
<rect x="1024" y="432" width="16" height="16" fill="#a6d081"/>
<rect x="1040" y="432" width="32" height="16" fill="#9cc47c"/>
<rect x="1072" y="432" width="16" height="16" fill="#709474"/>
<rect x="1088" y="432" width="16" height="16" fill="#304878"/>
<rect x="1104" y="432" width="16" height="16" fill="#a6d081"/>
<rect x="1120" y="432" width="16" height="16" fill="#709474"/>
<rect x="1136" y="432" width="16" height="16" fill="#3c5078"/>
<rect x="1152" y="432" width="16" height="16" fill="#a6d081"/>
<rect x="1168" y="432" width="16" height="16" fill="#9ccc78"/>
<rect x="16" y="448" width="16" height="16" fill="#1a4e9c"/>
<rect x="32" y="448" width="176" height="16" fill="#385ca2"/>
<rect x="208" y="448" width="16" height="16" fill="#f2ae7c"/>
<rect x="224" y="448" width="176" height="16" fill="#efa56c"/>
<rect x="400" y="448" width="16" height="16" fill="#f2c09c"/>
<rect x="416" y="448" width="48" height="16" fill="#efa56c"/>
<rect x="464" y="448" width="16" height="16" fill="#e4a070"/>
<rect x="480" y="448" width="32" height="16" fill="#efa56c"/>
<rect x="512" y="448" width="16" height="16" fill="#704c74"/>
<rect x="528" y="448" width="16" height="16" fill="#1c2870"/>
<rect x="544" y="448" width="16" height="16" fill="#302c70"/>
<rect x="560" y="448" width="32" height="16" fill="#efa56c"/>
<rect x="592" y="448" width="16" height="16" fill="#d8e0c0"/>
<rect x="608" y="448" width="176" height="16" fill="#a6d081"/>
<rect x="784" y="448" width="16" height="16" fill="#e4d8c4"/>
<rect x="800" y="448" width="176" height="16" fill="#e07c8b"/>
<rect x="976" y="448" width="16" height="16" fill="#e8a0ac"/>
<rect x="992" y="448" width="176" height="16" fill="#a6d081"/>
<rect x="1168" y="448" width="16" height="16" fill="#9ccc78"/>
<rect x="16" y="464" width="16" height="16" fill="#1a4e9c"/>
<rect x="32" y="464" width="32" height="16" fill="#385ca2"/>
<rect x="64" y="464" width="16" height="16" fill="#fcfcfd"/>
<rect x="80" y="464" width="16" height="16" fill="#2c55a0"/>
<rect x="96" y="464" width="16" height="16" fill="#94a0c8"/>
<rect x="112" y="464" width="16" height="16" fill="#6c80b8"/>
<rect x="128" y="464" width="16" height="16" fill="#8898c0"/>
<rect x="144" y="464" width="16" height="16" fill="#385ca2"/>
<rect x="160" y="464" width="16" height="16" fill="#c4c8e0"/>
<rect x="176" y="464" width="32" height="16" fill="#385ca2"/>
<rect x="208" y="464" width="16" height="16" fill="#f2ae7c"/>
<rect x="224" y="464" width="176" height="16" fill="#efa56c"/>
<rect x="400" y="464" width="16" height="16" fill="#f2c09c"/>
<rect x="416" y="464" width="176" height="16" fill="#efa56c"/>
<rect x="592" y="464" width="16" height="16" fill="#d8e0c0"/>
<rect x="608" y="464" width="176" height="16" fill="#a6d081"/>
<rect x="784" y="464" width="16" height="16" fill="#e4d8c4"/>
<rect x="800" y="464" width="16" height="16" fill="#b06884"/>
<rect x="816" y="464" width="16" height="16" fill="#a86080"/>
<rect x="832" y="464" width="16" height="16" fill="#8c5078"/>
<rect x="848" y="464" width="16" height="16" fill="#d07888"/>
<rect x="864" y="464" width="16" height="16" fill="#403070"/>
<rect x="880" y="464" width="32" height="16" fill="#985880"/>
<rect x="912" y="464" width="16" height="16" fill="#905480"/>
<rect x="928" y="464" width="16" height="16" fill="#e07c8b"/>
<rect x="944" y="464" width="16" height="16" fill="#d87888"/>
<rect x="960" y="464" width="16" height="16" fill="#704074"/>
<rect x="976" y="464" width="16" height="16" fill="#e8a0ac"/>
<rect x="992" y="464" width="16" height="16" fill="#80a47c"/>
<rect x="1008" y="464" width="48" height="16" fill="#a6d081"/>
<rect x="1056" y="464" width="16" height="16" fill="#4c6878"/>
<rect x="1072" y="464" width="16" height="16" fill="#94bc7c"/>
<rect x="1088" y="464" width="16" height="16" fill="#4c6878"/>
<rect x="1104" y="464" width="16" height="16" fill="#a6d081"/>
<rect x="1120" y="464" width="16" height="16" fill="#4c6078"/>
<rect x="1136" y="464" width="16" height="16" fill="#98c07c"/>
<rect x="1152" y="464" width="16" height="16" fill="#4c6478"/>
<rect x="1168" y="464" width="16" height="16" fill="#9ccc78"/>
<rect x="16" y="480" width="16" height="16" fill="#1a4e9c"/>
<rect x="32" y="480" width="176" height="16" fill="#385ca2"/>
<rect x="208" y="480" width="16" height="16" fill="#f2ae7c"/>
<rect x="224" y="480" width="176" height="16" fill="#efa56c"/>
<rect x="400" y="480" width="16" height="16" fill="#f2c09c"/>
<rect x="416" y="480" width="176" height="16" fill="#efa56c"/>
<rect x="592" y="480" width="16" height="16" fill="#d8e0c0"/>
<rect x="608" y="480" width="176" height="16" fill="#a6d081"/>
<rect x="784" y="480" width="16" height="16" fill="#e4d8c4"/>
<rect x="800" y="480" width="16" height="16" fill="#e07c8b"/>
<rect x="816" y="480" width="16" height="16" fill="#cc7488"/>
<rect x="832" y="480" width="16" height="16" fill="#b86c84"/>
<rect x="848" y="480" width="32" height="16" fill="#d07888"/>
<rect x="880" y="480" width="16" height="16" fill="#cc7484"/>
<rect x="896" y="480" width="16" height="16" fill="#704478"/>
<rect x="912" y="480" width="16" height="16" fill="#1c2870"/>
<rect x="928" y="480" width="16" height="16" fill="#e07c8b"/>
<rect x="944" y="480" width="16" height="16" fill="#a86480"/>
<rect x="960" y="480" width="16" height="16" fill="#704478"/>
<rect x="976" y="480" width="16" height="16" fill="#e8a0ac"/>
<rect x="992" y="480" width="16" height="16" fill="#a6d081"/>
<rect x="1008" y="480" width="32" height="16" fill="#94b87c"/>
<rect x="1040" y="480" width="16" height="16" fill="#a6d081"/>
<rect x="1056" y="480" width="16" height="16" fill="#6c8c74"/>
<rect x="1072" y="480" width="16" height="16" fill="#4c6478"/>
<rect x="1088" y="480" width="16" height="16" fill="#546c78"/>
<rect x="1104" y="480" width="16" height="16" fill="#94bc7c"/>
<rect x="1120" y="480" width="16" height="16" fill="#445c78"/>
<rect x="1136" y="480" width="16" height="16" fill="#546c78"/>
<rect x="1152" y="480" width="16" height="16" fill="#a6d081"/>
<rect x="1168" y="480" width="16" height="16" fill="#9ccc78"/>
<rect x="16" y="496" width="16" height="16" fill="#1a4e9c"/>
<rect x="32" y="496" width="176" height="16" fill="#385ca2"/>
<rect x="208" y="496" width="16" height="16" fill="#f2ae7c"/>
<rect x="224" y="496" width="176" height="16" fill="#efa56c"/>
<rect x="400" y="496" width="16" height="16" fill="#f2c09c"/>
<rect x="416" y="496" width="176" height="16" fill="#efa56c"/>
<rect x="592" y="496" width="16" height="16" fill="#d8e0c0"/>
<rect x="608" y="496" width="176" height="16" fill="#a6d081"/>
<rect x="784" y="496" width="16" height="16" fill="#e4d8c4"/>
<rect x="800" y="496" width="32" height="16" fill="#e07c8b"/>
<rect x="832" y="496" width="16" height="16" fill="#c07084"/>
<rect x="848" y="496" width="16" height="16" fill="#b86c84"/>
<rect x="864" y="496" width="112" height="16" fill="#e07c8b"/>
<rect x="976" y="496" width="16" height="16" fill="#e8a0ac"/>
<rect x="992" y="496" width="80" height="16" fill="#a6d081"/>
<rect x="1072" y="496" width="16" height="16" fill="#84a47c"/>
<rect x="1088" y="496" width="80" height="16" fill="#a6d081"/>
<rect x="1168" y="496" width="16" height="16" fill="#9ccc78"/>
<rect x="16" y="512" width="16" height="16" fill="#1a4e9c"/>
<rect x="32" y="512" width="176" height="16" fill="#385ca2"/>
<rect x="208" y="512" width="16" height="16" fill="#f2ae7c"/>
<rect x="224" y="512" width="176" height="16" fill="#efa56c"/>
<rect x="400" y="512" width="16" height="16" fill="#f2c09c"/>
<rect x="416" y="512" width="176" height="16" fill="#efa56c"/>
<rect x="592" y="512" width="16" height="16" fill="#d8e0c0"/>
<rect x="608" y="512" width="176" height="16" fill="#a6d081"/>
<rect x="784" y="512" width="16" height="16" fill="#e4d8c4"/>
<rect x="800" y="512" width="128" height="16" fill="#e07c8b"/>
<rect x="928" y="512" width="16" height="16" fill="#c87088"/>
<rect x="944" y="512" width="32" height="16" fill="#e07c8b"/>
<rect x="976" y="512" width="16" height="16" fill="#e8a0ac"/>
<rect x="992" y="512" width="112" height="16" fill="#a6d081"/>
<rect x="1104" y="512" width="16" height="16" fill="#203470"/>
<rect x="1120" y="512" width="48" height="16" fill="#a6d081"/>
<rect x="1168" y="512" width="16" height="16" fill="#9ccc78"/>
<rect x="16" y="528" width="192" height="16" fill="#acb8d4"/>
<rect x="208" y="528" width="16" height="16" fill="#f0d8c0"/>
<rect x="224" y="528" width="176" height="16" fill="#f0dcc4"/>
<rect x="400" y="528" width="16" height="16" fill="#f8e0d8"/>
<rect x="416" y="528" width="176" height="16" fill="#f4d4c8"/>
<rect x="592" y="528" width="16" height="16" fill="#f4f4ec"/>
<rect x="608" y="528" width="176" height="16" fill="#dce0cc"/>
<rect x="784" y="528" width="16" height="16" fill="#f8ece4"/>
<rect x="800" y="528" width="176" height="16" fill="#f4ccd0"/>
<rect x="976" y="528" width="16" height="16" fill="#f8d8dc"/>
<rect x="992" y="528" width="176" height="16" fill="#d8e8c8"/>
<rect x="1168" y="528" width="16" height="16" fill="#d4e4c4"/>
<rect x="16" y="544" width="16" height="16" fill="#1a4e9c"/>
<rect x="32" y="544" width="176" height="16" fill="#385ca2"/>
<rect x="208" y="544" width="16" height="16" fill="#acd488"/>
<rect x="224" y="544" width="176" height="16" fill="#a6d081"/>
<rect x="400" y="544" width="16" height="16" fill="#e8a4ac"/>
<rect x="416" y="544" width="176" height="16" fill="#e07c8b"/>
<rect x="592" y="544" width="16" height="16" fill="#f0bcc4"/>
<rect x="608" y="544" width="16" height="16" fill="#e07c8b"/>
<rect x="624" y="544" width="16" height="16" fill="#7c4878"/>
<rect x="640" y="544" width="32" height="16" fill="#e07c8b"/>
<rect x="672" y="544" width="16" height="16" fill="#7c4878"/>
<rect x="688" y="544" width="96" height="16" fill="#e07c8b"/>
<rect x="784" y="544" width="16" height="16" fill="#f4d0c8"/>
<rect x="800" y="544" width="176" height="16" fill="#efa56c"/>
<rect x="976" y="544" width="16" height="16" fill="#f2b48c"/>
<rect x="992" y="544" width="176" height="16" fill="#a6d081"/>
<rect x="1168" y="544" width="16" height="16" fill="#9ccc78"/>
<rect x="16" y="560" width="16" height="16" fill="#1a4e9c"/>
<rect x="32" y="560" width="176" height="16" fill="#385ca2"/>
<rect x="208" y="560" width="16" height="16" fill="#acd488"/>
<rect x="224" y="560" width="176" height="16" fill="#a6d081"/>
<rect x="400" y="560" width="16" height="16" fill="#e8a4ac"/>
<rect x="416" y="560" width="176" height="16" fill="#e07c8b"/>
<rect x="592" y="560" width="16" height="16" fill="#f0bcc4"/>
<rect x="608" y="560" width="112" height="16" fill="#e07c8b"/>
<rect x="720" y="560" width="16" height="16" fill="#9c5c80"/>
<rect x="736" y="560" width="48" height="16" fill="#e07c8b"/>
<rect x="784" y="560" width="16" height="16" fill="#f4d0c8"/>
<rect x="800" y="560" width="176" height="16" fill="#efa56c"/>
<rect x="976" y="560" width="16" height="16" fill="#f2b48c"/>
<rect x="992" y="560" width="16" height="16" fill="#9cc47c"/>
<rect x="1008" y="560" width="16" height="16" fill="#a6d081"/>
<rect x="1024" y="560" width="16" height="16" fill="#90b47c"/>
<rect x="1040" y="560" width="16" height="16" fill="#445c78"/>
<rect x="1056" y="560" width="16" height="16" fill="#789878"/>
<rect x="1072" y="560" width="16" height="16" fill="#142070"/>
<rect x="1088" y="560" width="32" height="16" fill="#90b47c"/>
<rect x="1120" y="560" width="16" height="16" fill="#3c5078"/>
<rect x="1136" y="560" width="16" height="16" fill="#2c4078"/>
<rect x="1152" y="560" width="16" height="16" fill="#a6d081"/>
<rect x="1168" y="560" width="16" height="16" fill="#9ccc78"/>
<rect x="16" y="576" width="16" height="16" fill="#1a4e9c"/>
<rect x="32" y="576" width="16" height="16" fill="#385ca2"/>
<rect x="48" y="576" width="16" height="16" fill="#9ca8cc"/>
<rect x="64" y="576" width="16" height="16" fill="#0c44a0"/>
<rect x="80" y="576" width="16" height="16" fill="#f0f2f6"/>
<rect x="96" y="576" width="16" height="16" fill="#385ca2"/>
<rect x="112" y="576" width="16" height="16" fill="#8898c4"/>
<rect x="128" y="576" width="16" height="16" fill="#c8cce0"/>
<rect x="144" y="576" width="16" height="16" fill="#d8dcea"/>
<rect x="160" y="576" width="16" height="16" fill="#5470ac"/>
<rect x="176" y="576" width="16" height="16" fill="#f0f2f6"/>
<rect x="192" y="576" width="16" height="16" fill="#385ca2"/>
<rect x="208" y="576" width="16" height="16" fill="#acd488"/>
<rect x="224" y="576" width="176" height="16" fill="#a6d081"/>
<rect x="400" y="576" width="16" height="16" fill="#e8a4ac"/>
<rect x="416" y="576" width="16" height="16" fill="#e07c8b"/>
<rect x="432" y="576" width="16" height="16" fill="#d47488"/>
<rect x="448" y="576" width="48" height="16" fill="#e07c8b"/>
<rect x="496" y="576" width="16" height="16" fill="#d47488"/>
<rect x="512" y="576" width="80" height="16" fill="#e07c8b"/>
<rect x="592" y="576" width="16" height="16" fill="#f0bcc4"/>
<rect x="608" y="576" width="32" height="16" fill="#e07c8b"/>
<rect x="640" y="576" width="16" height="16" fill="#905480"/>
<rect x="656" y="576" width="16" height="16" fill="#cc6c80"/>
<rect x="672" y="576" width="16" height="16" fill="#8c5078"/>
<rect x="688" y="576" width="16" height="16" fill="#e07c8b"/>
<rect x="704" y="576" width="16" height="16" fill="#a06080"/>
<rect x="720" y="576" width="16" height="16" fill="#b86484"/>
<rect x="736" y="576" width="16" height="16" fill="#a05c7c"/>
<rect x="752" y="576" width="32" height="16" fill="#e07c8b"/>
<rect x="784" y="576" width="16" height="16" fill="#f4d0c8"/>
<rect x="800" y="576" width="176" height="16" fill="#efa56c"/>
<rect x="976" y="576" width="16" height="16" fill="#f2b48c"/>
<rect x="992" y="576" width="176" height="16" fill="#a6d081"/>
<rect x="1168" y="576" width="16" height="16" fill="#9ccc78"/>
<rect x="16" y="592" width="16" height="16" fill="#1a4e9c"/>
<rect x="32" y="592" width="48" height="16" fill="#385ca2"/>
<rect x="80" y="592" width="16" height="16" fill="#5470ac"/>
<rect x="96" y="592" width="16" height="16" fill="#fafafc"/>
<rect x="112" y="592" width="16" height="16" fill="#f0f2f6"/>
<rect x="128" y="592" width="16" height="16" fill="#7888bc"/>
<rect x="144" y="592" width="64" height="16" fill="#385ca2"/>
<rect x="208" y="592" width="16" height="16" fill="#acd488"/>
<rect x="224" y="592" width="48" height="16" fill="#a6d081"/>
<rect x="272" y="592" width="16" height="16" fill="#98b880"/>
<rect x="288" y="592" width="16" height="16" fill="#a0c880"/>
<rect x="304" y="592" width="32" height="16" fill="#a6d081"/>
<rect x="336" y="592" width="16" height="16" fill="#9cc47e"/>
<rect x="352" y="592" width="48" height="16" fill="#a6d081"/>
<rect x="400" y="592" width="16" height="16" fill="#e8a4ac"/>
<rect x="416" y="592" width="16" height="16" fill="#e07c8b"/>
<rect x="432" y="592" width="16" height="16" fill="#e27f8e"/>
<rect x="448" y="592" width="16" height="16" fill="#b06884"/>
<rect x="464" y="592" width="32" height="16" fill="#e07c8b"/>
<rect x="496" y="592" width="16" height="16" fill="#e3808f"/>
<rect x="512" y="592" width="32" height="16" fill="#e48290"/>
<rect x="544" y="592" width="16" height="16" fill="#e07c8b"/>
<rect x="560" y="592" width="16" height="16" fill="#e3808f"/>
<rect x="576" y="592" width="16" height="16" fill="#e07c8b"/>
<rect x="592" y="592" width="16" height="16" fill="#f0bcc4"/>
<rect x="608" y="592" width="64" height="16" fill="#e07c8b"/>
<rect x="672" y="592" width="16" height="16" fill="#cc7084"/>
<rect x="688" y="592" width="48" height="16" fill="#e07c8b"/>
<rect x="736" y="592" width="16" height="16" fill="#b86484"/>
<rect x="752" y="592" width="32" height="16" fill="#e07c8b"/>
<rect x="784" y="592" width="16" height="16" fill="#f4d0c8"/>
<rect x="800" y="592" width="48" height="16" fill="#efa56c"/>
<rect x="848" y="592" width="16" height="16" fill="#d89470"/>
<rect x="864" y="592" width="16" height="16" fill="#efa56c"/>
<rect x="880" y="592" width="16" height="16" fill="#dc9870"/>
<rect x="896" y="592" width="16" height="16" fill="#d89470"/>
<rect x="912" y="592" width="16" height="16" fill="#dc9870"/>
<rect x="928" y="592" width="48" height="16" fill="#efa56c"/>
<rect x="976" y="592" width="16" height="16" fill="#f2b48c"/>
<rect x="992" y="592" width="16" height="16" fill="#a6d081"/>
<rect x="1008" y="592" width="16" height="16" fill="#94bc7c"/>
<rect x="1024" y="592" width="16" height="16" fill="#a6d081"/>
<rect x="1040" y="592" width="16" height="16" fill="#789878"/>
<rect x="1056" y="592" width="16" height="16" fill="#a6d081"/>
<rect x="1072" y="592" width="16" height="16" fill="#98c07c"/>
<rect x="1088" y="592" width="16" height="16" fill="#9cc47c"/>
<rect x="1104" y="592" width="16" height="16" fill="#98bc7c"/>
<rect x="1120" y="592" width="16" height="16" fill="#a6d081"/>
<rect x="1136" y="592" width="16" height="16" fill="#94bc7c"/>
<rect x="1152" y="592" width="16" height="16" fill="#a6d081"/>
<rect x="1168" y="592" width="16" height="16" fill="#9ccc78"/>
<rect x="16" y="608" width="16" height="16" fill="#1a4e9c"/>
<rect x="32" y="608" width="176" height="16" fill="#385ca2"/>
<rect x="208" y="608" width="16" height="16" fill="#acd488"/>
<rect x="224" y="608" width="176" height="16" fill="#a6d081"/>
<rect x="400" y="608" width="16" height="16" fill="#e8a4ac"/>
<rect x="416" y="608" width="176" height="16" fill="#e07c8b"/>
<rect x="592" y="608" width="16" height="16" fill="#f0bcc4"/>
<rect x="608" y="608" width="176" height="16" fill="#e07c8b"/>
<rect x="784" y="608" width="16" height="16" fill="#f4d0c8"/>
<rect x="800" y="608" width="176" height="16" fill="#efa56c"/>
<rect x="976" y="608" width="16" height="16" fill="#f2b48c"/>
<rect x="992" y="608" width="16" height="16" fill="#a6d081"/>
<rect x="1008" y="608" width="16" height="16" fill="#98c07c"/>
<rect x="1024" y="608" width="16" height="16" fill="#4c6078"/>
<rect x="1040" y="608" width="16" height="16" fill="#4c6478"/>
<rect x="1056" y="608" width="16" height="16" fill="#3c5078"/>
<rect x="1072" y="608" width="16" height="16" fill="#1c2870"/>
<rect x="1088" y="608" width="16" height="16" fill="#789878"/>
<rect x="1104" y="608" width="16" height="16" fill="#344878"/>
<rect x="1120" y="608" width="16" height="16" fill="#a6d081"/>
<rect x="1136" y="608" width="16" height="16" fill="#789878"/>
<rect x="1152" y="608" width="16" height="16" fill="#a6d081"/>
<rect x="1168" y="608" width="16" height="16" fill="#9ccc78"/>
<rect x="16" y="624" width="16" height="16" fill="#1a4e9c"/>
<rect x="32" y="624" width="176" height="16" fill="#385ca2"/>
<rect x="208" y="624" width="16" height="16" fill="#acd488"/>
<rect x="224" y="624" width="176" height="16" fill="#a6d081"/>
<rect x="400" y="624" width="16" height="16" fill="#e8a4ac"/>
<rect x="416" y="624" width="176" height="16" fill="#e07c8b"/>
<rect x="592" y="624" width="16" height="16" fill="#f0bcc4"/>
<rect x="608" y="624" width="32" height="16" fill="#e07c8b"/>
<rect x="640" y="624" width="16" height="16" fill="#503c78"/>
<rect x="656" y="624" width="16" height="16" fill="#885078"/>
<rect x="672" y="624" width="16" height="16" fill="#784878"/>
<rect x="688" y="624" width="32" height="16" fill="#804c78"/>
<rect x="720" y="624" width="16" height="16" fill="#603c74"/>
<rect x="736" y="624" width="16" height="16" fill="#7c4878"/>
<rect x="752" y="624" width="32" height="16" fill="#e07c8b"/>
<rect x="784" y="624" width="16" height="16" fill="#f4d0c8"/>
<rect x="800" y="624" width="176" height="16" fill="#efa56c"/>
<rect x="976" y="624" width="16" height="16" fill="#f2b48c"/>
<rect x="992" y="624" width="176" height="16" fill="#a6d081"/>
<rect x="1168" y="624" width="16" height="16" fill="#9ccc78"/>
<rect x="16" y="640" width="192" height="16" fill="#b4bcd8"/>
<rect x="208" y="640" width="192" height="16" fill="#dce8d0"/>
<rect x="400" y="640" width="16" height="16" fill="#f4d8dc"/>
<rect x="416" y="640" width="176" height="16" fill="#f0ccd0"/>
<rect x="592" y="640" width="16" height="16" fill="#f8e8ec"/>
<rect x="608" y="640" width="176" height="16" fill="#f0ccd0"/>
<rect x="784" y="640" width="16" height="16" fill="#f8ece8"/>
<rect x="800" y="640" width="176" height="16" fill="#f8dcc8"/>
<rect x="976" y="640" width="16" height="16" fill="#f8e0d8"/>
<rect x="992" y="640" width="192" height="16" fill="#dce8d0"/>
</svg>
</body></html>
